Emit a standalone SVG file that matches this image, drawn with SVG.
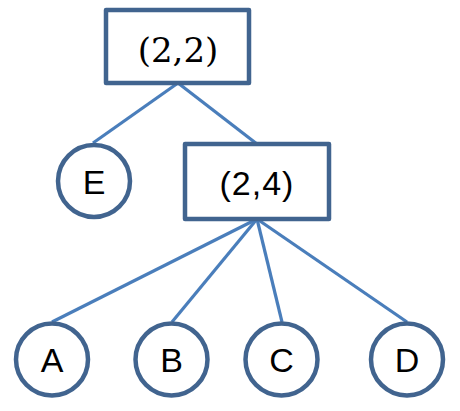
<svg xmlns="http://www.w3.org/2000/svg" width="460" height="411" viewBox="0 0 460 411">
<style>
.box{fill:#fff;stroke:#41648f;stroke-width:4.5;stroke-linejoin:round}
.circ{fill:#fff;stroke:#41648f;stroke-width:4.5}
.edge{stroke:#4a7ebb;stroke-width:3.2;fill:none}
.lbl{font-family:"Liberation Sans",Arial,sans-serif;font-size:34px;fill:#000;text-anchor:middle}
.serif{font-family:"DejaVu Serif","Liberation Serif",serif;font-size:34px;fill:#000;text-anchor:middle}
</style>
<rect width="460" height="411" fill="#fff"/>
<g id="connectors">
<line class="edge" x1="178" y1="83" x2="93" y2="143"/>
<line class="edge" x1="178" y1="83" x2="257" y2="144"/>
<line class="edge" x1="257" y1="219" x2="52" y2="322"/>
<line class="edge" x1="257" y1="219" x2="172" y2="322"/>
<line class="edge" x1="257" y1="219" x2="282" y2="322"/>
<line class="edge" x1="257" y1="219" x2="407" y2="322"/>
</g>
<g id="n22">
<rect class="box" x="106" y="10" width="143" height="73"/>
<text class="serif" x="178" y="62">(2,2)</text>
</g>
<g id="nE">
<circle class="circ" cx="94" cy="181" r="36"/>
<text class="lbl" x="94" y="194">E</text>
</g>
<g id="n24">
<rect class="box" x="185" y="144" width="144" height="75"/>
<text class="lbl" x="257" y="195" letter-spacing="1">(2,4)</text>
</g>
<g id="nA">
<circle class="circ" cx="52" cy="359.5" r="36"/>
<text class="lbl" x="52" y="372">A</text>
</g>
<g id="nB">
<circle class="circ" cx="171.5" cy="359.5" r="36"/>
<text class="lbl" x="171.5" y="372">B</text>
</g>
<g id="nC">
<circle class="circ" cx="281.5" cy="359.5" r="36"/>
<text class="lbl" x="281.5" y="372">C</text>
</g>
<g id="nD">
<circle class="circ" cx="407" cy="359.5" r="36"/>
<text class="lbl" x="407" y="372">D</text>
</g>
</svg>
